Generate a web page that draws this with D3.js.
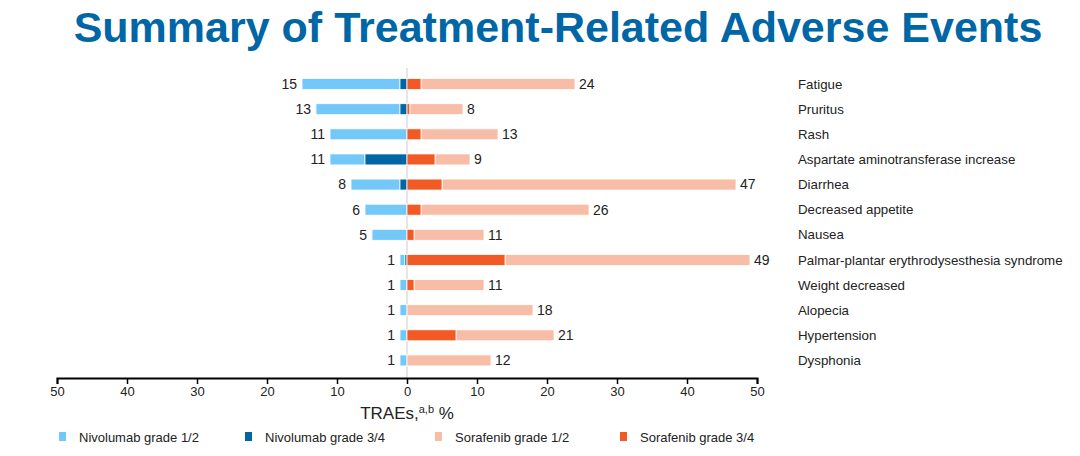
<!DOCTYPE html>
<html>
<head>
<meta charset="utf-8">
<script src="https://cdn.jsdelivr.net/npm/d3@7"></script>
<style>
  body { margin: 0; background: #fff; }
  svg { display: block; font-family: Arial, "Liberation Sans", sans-serif; }
</style>
</head>
<body>
<svg width="1080" height="456"></svg>
<script>
var categories = ['Fatigue', 'Pruritus', 'Rash', 'Aspartate aminotransferase increase', 'Diarrhea',
  'Decreased appetite', 'Nausea', 'Palmar-plantar erythrodysesthesia syndrome', 'Weight decreased',
  'Alopecia', 'Hypertension', 'Dysphonia']

// any grade totals and grade 3/4 parts, %
var nivoTotal = [15, 13, 11, 11, 8, 6, 5, 1, 1, 1, 1, 1]
var nivoG34 = [1, 1, 0, 6, 1, 0, 0, 0.3, 0, 0, 0, 0]
var soraTotal = [24, 8, 13, 9, 47, 26, 11, 49, 11, 18, 21, 12]
var soraG34 = [2, 0.4, 2, 4, 5, 2, 1, 14, 1, 0, 7, 0]

var tickValues = [-50, -40, -30, -20, -10, 0, 10, 20, 30, 40, 50]
var legendLabels = ['Nivolumab grade 1/2', 'Nivolumab grade 3/4', 'Sorafenib grade 1/2', 'Sorafenib grade 3/4']

var colors = {
  nivoLow: '#73C8FA',
  nivoHigh: '#0066A6',
  soraLow: '#F8BDA7',
  soraHigh: '#F15A24'
}

var svg = d3.select('svg')

var x = d3.scaleLinear().domain([-50, 50]).range([57, 757])
var y = d3.scalePoint().domain(categories).range([71.5, 373]).padding(0.5)
var barH = 11

// title
svg.append('text')
  .attr('x', 558)
  .attr('y', 42)
  .attr('text-anchor', 'middle')
  .style('font-size', '43px')
  .style('font-weight', 'bold')
  .style('fill', '#0066A6')
  .text('Summary of Treatment-Related Adverse Events')

// centre line
svg.append('line')
  .attr('x1', x(0)).attr('x2', x(0))
  .attr('y1', 68).attr('y2', 378)
  .attr('stroke', '#cccccc')
  .attr('stroke-width', 1)

// one row per adverse event, stacked out from zero
var segs = []
categories.forEach(function(c, i) {
  segs.push({cat: c, from: -nivoG34[i], to: -nivoTotal[i], color: colors.nivoLow})
  segs.push({cat: c, from: 0, to: -nivoG34[i], color: colors.nivoHigh})
  segs.push({cat: c, from: soraG34[i], to: soraTotal[i], color: colors.soraLow})
  segs.push({cat: c, from: 0, to: soraG34[i], color: colors.soraHigh})
})

svg.append('g')
  .selectAll('rect')
  .data(segs.filter(function(d) { return d.from != d.to }))
  .enter()
  .append('rect')
  .attr('x', function(d) { return Math.min(x(d.from), x(d.to)) })
  .attr('width', function(d) { return Math.abs(x(d.to) - x(d.from)) })
  .attr('y', function(d) { return y(d.cat) - barH / 2 })
  .attr('height', barH)
  .attr('fill', function(d) { return d.color })
  .attr('stroke', 'white')
  .attr('stroke-width', 0.8)

// value labels
var labels = svg.append('g').style('font-size', '14px').style('fill', '#222')

labels.selectAll('text.left')
  .data(categories)
  .enter()
  .append('text')
  .attr('class', 'left')
  .attr('x', function(d, i) { return x(-nivoTotal[i]) - 5 })
  .attr('y', function(d) { return y(d) })
  .attr('dy', '0.35em')
  .attr('text-anchor', 'end')
  .text(function(d, i) { return nivoTotal[i] })

labels.selectAll('text.right')
  .data(categories)
  .enter()
  .append('text')
  .attr('class', 'right')
  .attr('x', function(d, i) { return x(soraTotal[i]) + 4 })
  .attr('y', function(d) { return y(d) })
  .attr('dy', '0.35em')
  .text(function(d, i) { return soraTotal[i] })

labels.selectAll('text.cat')
  .data(categories)
  .enter()
  .append('text')
  .attr('class', 'cat')
  .attr('x', 798)
  .attr('y', function(d) { return y(d) })
  .attr('dy', '0.35em')
  .style('font-size', '13.3px')
  .text(function(d) { return d })

// axis
var axis = svg.append('g')
  .attr('transform', 'translate(0,378)')
  .call(d3.axisBottom(x).tickValues(tickValues).tickSize(6).tickPadding(3)
    .tickFormat(function(d) { return Math.abs(d) }))

axis.select('.domain').attr('stroke', '#000').attr('stroke-width', 2)
axis.selectAll('.tick line').attr('stroke', '#000').attr('stroke-width', 1.5)
axis.selectAll('.tick text')
  .style('font-family', '"Liberation Sans Narrow", Arial, sans-serif')
  .style('font-size', '13px')
  .style('fill', '#222')

var xt = svg.append('text')
  .attr('x', x(0))
  .attr('y', 419)
  .attr('text-anchor', 'middle')
  .style('font-family', '"Liberation Sans Narrow", Arial, sans-serif')
  .style('font-size', '17px')
  .style('fill', '#222')
xt.append('tspan').text('TRAEs,')
xt.append('tspan').attr('dy', -6).style('font-size', '11px').text('a,b')
xt.append('tspan').attr('dy', 6).text(' %')

// legend
var legendX = [59, 245, 435, 620]
var legendColors = [colors.nivoLow, colors.nivoHigh, colors.soraLow, colors.soraHigh]

var legend = svg.append('g')
  .selectAll('g')
  .data(legendLabels)
  .enter()
  .append('g')
  .attr('transform', function(d, i) { return 'translate(' + legendX[i] + ',437)' })

legend.append('rect')
  .attr('x', 0)
  .attr('y', -5)
  .attr('width', 7)
  .attr('height', 9)
  .attr('fill', function(d, i) { return legendColors[i] })

legend.append('text')
  .attr('x', 20)
  .attr('y', 0)
  .attr('dy', '0.35em')
  .style('font-family', '"Liberation Sans Narrow", Arial, sans-serif')
  .style('font-size', '13px')
  .style('fill', '#222')
  .text(function(d) { return d })
</script>
</body>
</html>
